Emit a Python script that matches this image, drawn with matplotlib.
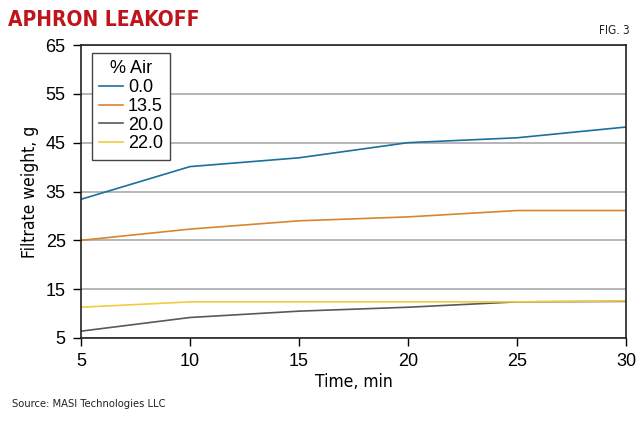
import matplotlib
matplotlib.use('Agg')
import matplotlib.pyplot as plt

# data
time_min = [5, 10, 15, 20, 25, 30]
air_labels = ['0.0', '13.5', '20.0', '22.0']
air_0 = [33.4, 40.1, 41.9, 45.0, 46.0, 48.2]
air_13_5 = [25.0, 27.3, 29.0, 29.8, 31.1, 31.1]
air_20 = [6.4, 9.2, 10.5, 11.3, 12.4, 12.5]
air_22 = [11.3, 12.4, 12.4, 12.4, 12.4, 12.6]
y_ticks = [5, 15, 25, 35, 45, 55, 65]
x_ticks = [5, 10, 15, 20, 25, 30]

colors = ['#1d6f9e', '#d9852e', '#595959', '#f2cc3c']

plt.rcParams['font.family'] = ['Liberation Sans', 'DejaVu Sans']

fig = plt.figure(figsize=(6.4, 4.25), dpi=100)
ax = fig.add_axes([81/640, 1 - 338/425, (626-81)/640, (338-45)/425])

for vals, lab, c in zip([air_0, air_13_5, air_20, air_22], air_labels, colors):
    ax.plot(time_min, vals, color=c, lw=1.2, label=lab)

ax.set_xlim(5, 30)
ax.set_ylim(5, 65)
ax.set_xticks(x_ticks)
ax.set_yticks(y_ticks)
ax.tick_params(labelsize=13, direction='out', length=6, width=1, pad=5)
ax.yaxis.grid(True, color='#b0b0b0', lw=1.3)
ax.set_axisbelow(True)
for s in ax.spines.values():
    s.set_linewidth(1.2)
    s.set_color('#222222')

ax.set_xlabel('Time, min', fontsize=12.5, family='DejaVu Sans',
              fontstretch='condensed', labelpad=2)
ax.set_ylabel('Filtrate weight, g', fontsize=12.5, family='DejaVu Sans',
              fontstretch='condensed', labelpad=5)

leg = ax.legend(title='% Air', loc='upper left', fontsize=13, title_fontsize=13,
                handlelength=1.3, handletextpad=0.3, borderpad=0.4,
                labelspacing=0.1, fancybox=False, framealpha=1,
                edgecolor='#444444', borderaxespad=0,
                bbox_to_anchor=(11/545, 1 - 8/293))
leg.get_frame().set_linewidth(1.0)

fig.text(8/640, 1 - 20/425, 'APHRON LEAKOFF', color='#c0141c', fontsize=15,
         fontweight='bold', family='DejaVu Sans', fontstretch='condensed',
         va='center', ha='left')
fig.text(630/640, 1 - 31/425, 'FIG. 3', color='#222222', fontsize=8.5,
         family='DejaVu Sans', fontstretch='condensed', va='center', ha='right')
fig.text(12/640, 1 - 404/425, 'Source: MASI Technologies LLC', color='#222222',
         fontsize=8, family='DejaVu Sans', fontstretch='condensed',
         va='center', ha='left')

fig.savefig('out.png', dpi=100)
